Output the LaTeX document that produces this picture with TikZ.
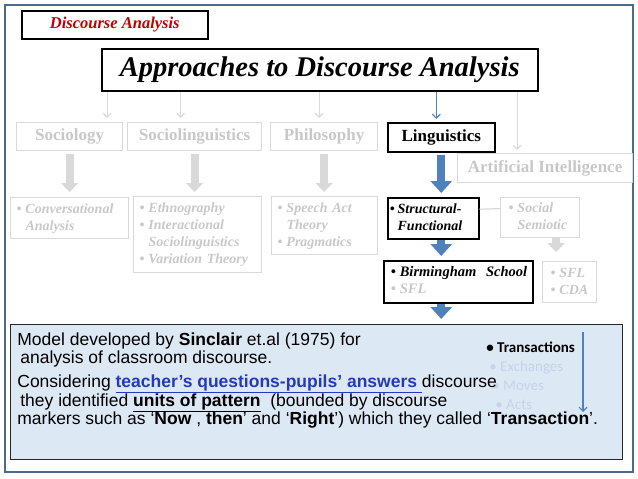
\documentclass[tikz,border=0pt]{standalone}
\usepackage{fontspec}
\setmainfont{Liberation Serif}
\setsansfont{Liberation Sans}
\newfontfamily\calibri{Carlito}
\usetikzlibrary{arrows.meta,calc}

\definecolor{frameblue}{RGB}{74,106,148}
\definecolor{fadegray}{RGB}{217,217,217}
\definecolor{fadetext}{RGB}{200,200,200}
\definecolor{darkred}{RGB}{192,0,0}
\definecolor{arrowblue}{RGB}{79,129,189}
\definecolor{paleblue}{RGB}{221,232,245}
\definecolor{linkblue}{RGB}{36,58,190}
\definecolor{fadeblue}{RGB}{196,212,233}

\newcommand{\rowfont}{\fontsize{17}{20}\selectfont\bfseries}
\newcommand{\listfont}{\fontsize{14}{17}\selectfont\bfseries\itshape}
\newcommand{\bul}{\textbullet}

\tikzset{every picture/.style={line width=0.75pt},
  grybox/.style={draw=fadegray, line width=1.2pt, text=fadetext, inner sep=0pt, anchor=north west},
  blkbox/.style={draw=black, line width=1.5pt, text=black, inner sep=0pt, anchor=north west},
  lbox/.style={align=left, text width=#1},
  thinarr/.style={draw=fadegray, line width=1.2pt, -{Straight Barb[length=4pt,width=8pt]}},
  bluearr/.style={draw=arrowblue, line width=1.2pt, -{Straight Barb[length=4pt,width=8pt]}},
  grayblock/.style={draw=fadegray, line width=8pt, -{Triangle[width=17pt,length=9pt]}},
  blueblock/.style={draw=arrowblue, line width=8pt, -{Triangle[width=21pt,length=12pt]}}
}

\begin{document}
\begin{tikzpicture}[x=1pt,y=1pt,yscale=-1,xscale=1]
\useasboundingbox (0,0) rectangle (638,479);

%Slide frame
\draw[frameblue, line width=2pt] (5,5) rectangle (633,472);

% Header boxes
\node[blkbox, minimum width=186, minimum height=28, text=darkred, font=\fontsize{16.5}{18}\selectfont\bfseries\itshape] (dahead) at (21,10) {Discourse Analysis};
\node[blkbox, minimum width=436, minimum height=42, font=\fontsize{28.5}{30}\selectfont\bfseries\itshape] (title) at (101,48) {Approaches to Discourse Analysis};

% Disciplines
\node[grybox, minimum width=106, minimum height=28, font=\rowfont] (soc) at (16,122) {Sociology};
\node[grybox, minimum width=134, minimum height=28, font=\rowfont] (socio) at (127,122) {Sociolinguistics};
\node[grybox, minimum width=107, minimum height=28, font=\rowfont] (phil) at (270,122) {Philosophy};
\node[blkbox, minimum width=107, minimum height=29, font=\rowfont] (ling) at (387,122) {Linguistics};
\node[grybox, minimum width=175, minimum height=29, font=\rowfont] (ai) at (457,153) {Artificial Intelligence};

% Approaches
\node[grybox, lbox=106, minimum width=118, minimum height=41, font=\listfont] (conv) at (10,197)
  {\begin{tabular}{@{}l@{\hspace{4pt}}l@{}}\bul&Conversational\\ &Analysis\end{tabular}};
\node[grybox, lbox=116, minimum width=128, minimum height=76, font=\listfont] (ethno) at (133,196)
  {\begin{tabular}{@{}l@{\hspace{4pt}}l@{}}\bul&Ethnography\\ \bul&Interactional\\ &Sociolinguistics\\ \bul&Variation Theory\end{tabular}};
\node[grybox, lbox=94, minimum width=106, minimum height=58, font=\listfont] (speech) at (271,196)
  {\begin{tabular}{@{}l@{\hspace{4pt}}l@{}}\bul&Speech Act\\ &Theory\\ \bul&Pragmatics\end{tabular}};
\node[blkbox, lbox=87, minimum width=91, minimum height=41, font=\listfont] (struct) at (387,197)
  {\begin{tabular}{@{}l@{\hspace{3pt}}l@{}}\bul&Structural-\\ &Functional\end{tabular}};
\node[grybox, lbox=63, minimum width=79, minimum height=40, font=\listfont] (social) at (500,197)
  {\begin{tabular}{@{}l@{\hspace{4pt}}l@{}}\bul&Social\\ &Semiotic\end{tabular}};
\node[blkbox, lbox=135, minimum width=149, minimum height=42, font=\fontsize{14.5}{17}\selectfont\bfseries\itshape] (birm) at (383,260)
  {\begin{tabular}{@{}l@{\hspace{4pt}}l@{}}\bul&Birmingham\ \ School\\ \textcolor{fadetext}{\bul}&\textcolor{fadetext}{SFL}\end{tabular}};
\node[grybox, lbox=38, minimum width=54, minimum height=41, font=\listfont] (sfl) at (542,261)
  {\begin{tabular}{@{}l@{\hspace{4pt}}l@{}}\bul&SFL\\ \bul&CDA\end{tabular}};

% Model box
\node[draw=black!85, fill=paleblue, line width=1pt, minimum width=612, minimum height=135, anchor=north west, inner sep=0pt] (model) at (10,324) {};
\node[anchor=north west, inner sep=0pt, align=left, font=\calibri\fontsize{15}{19}\selectfont] (levels) at (486,341.5)
  {\textbf{\bul\ Transactions}\\ \textcolor{fadeblue}{\hspace{3pt}\bul\ Exchanges}\\ \textcolor{fadeblue}{\hspace{6pt}\bul\ Moves}\\ \textcolor{fadeblue}{\hspace{9pt}\bul\ Acts}};
\node[anchor=north west, inner sep=0pt, align=left, font=\sffamily\fontsize{17.5}{18.5}\selectfont] (modeltxt) at ($(model.north west)+(7,8)$)
  {Model developed by \textbf{Sinclair} et.al (1975) for\\
   \hspace{3pt}analysis of classroom discourse.\\[5.5pt]
   Considering \textcolor{linkblue}{\underline{\textbf{teacher’s questions-pupils’ answers}\ }}discourse\\
   \hspace{3pt}they identified \underline{\textbf{units of pattern}}\ \ (bounded by discourse\\
   markers such as ‘\textbf{Now} , \textbf{then}’ and ‘\textbf{Right}’) which they called ‘\textbf{Transaction}’.};

% Connection
\coordinate (t1) at ($(soc.north east)+(-16,-4)$);
\coordinate (t2) at ($(socio.north)+(-14,-4)$);
\coordinate (t3) at ($(phil.north)+(-5,-4)$);
\coordinate (t4) at ($(ling.north)+(-5,-3)$);
\coordinate (t5) at ($(ai.north)+(-28,-3)$);
\draw[thinarr] (title.south -| t1) -- (t1);
\draw[thinarr] (title.south -| t2) -- (t2);
\draw[thinarr] (title.south -| t3) -- (t3);
\draw[bluearr] (title.south -| t4) -- (t4);
\draw[thinarr] (title.south -| t5) -- (t5);
% Connection
\draw[grayblock, shorten <=3pt, shorten >=5pt] (soc.south) -- (soc.south |- conv.north);
\draw[grayblock, shorten <=3pt, shorten >=4pt] (socio.south) -- (socio.south |- ethno.north);
\draw[grayblock, shorten <=3pt, shorten >=4pt] (phil.south) -- (phil.south |- speech.north);
\draw[blueblock, shorten <=2pt, shorten >=4pt] (ling.south) -- (ling.south |- struct.north);
\draw[blueblock, shorten >=4pt] (struct.south -| ling.south) -- (birm.north -| ling.south);
\draw[blueblock, shorten >=5pt] (birm.south -| ling.south) -- (model.north -| ling.south);
\draw[fadegray, line width=1.2pt] ($(struct.east)+(0,-9)$) -- ($(social.west)+(0,-9)$);
\coordinate (s6) at ($(social.south)+(16,0)$);
\draw[grayblock, shorten >=9pt] (s6) -- (s6 |- sfl.north);
% Connection
\coordinate (lvtop) at (583,332);
\coordinate (lvbot) at (583,412);
\draw[bluearr] (lvtop) -- (lvbot);

\end{tikzpicture}
\end{document}
